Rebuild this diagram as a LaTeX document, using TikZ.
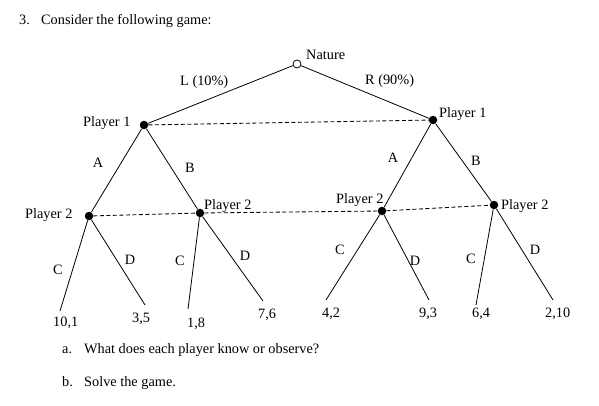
\documentclass[tikz,border=0pt]{standalone}
\usepackage{fontspec}
\setmainfont{Liberation Serif}
\usepackage{tikz}

\tikzset{
	decision/.style={circle,fill=black,inner sep=0pt,minimum size=8.5pt},
	chance/.style={circle,draw=black,fill=white,inner sep=0pt,minimum size=8pt,line width=0.8pt},
	txt/.style={inner sep=0pt,anchor=base west},
	move/.style={inner sep=0pt},
	infoset/.style={dashed,dash pattern=on 4pt off 2.5pt,line width=0.85pt},
	branch/.style={line width=0.8pt}
}

\begin{document}
\fontsize{14.3pt}{17pt}\selectfont
\begin{tikzpicture}[x=1pt,y=-1pt]
		\useasboundingbox[fill=white] (0,0) rectangle (599,406);

		% >>> question text
		\node[txt] (num) at (19,25) {3.};
		\node[txt] (title) at (41,25) {Consider the following game:};
		\node[txt] (qa) at (62,353) {a.};
		\node[txt] (qatext) at (84,353) {What does each player know or observe?};
		\node[txt] (qb) at (62,386) {b.};
		\node[txt] (qbtext) at (84,386) {Solve the game.};
		% <<< question text

		% >>> decision nodes
		\node[chance] (nat) at (297,64) {};
		\node[decision] (p1l) at (144,125) {};
		\node[decision] (p1r) at (433,120) {};
		\node[decision] (p2a) at (89,216) {};
		\node[decision] (p2b) at (200,213) {};
		\node[decision] (p2c) at (382,211) {};
		\node[decision] (p2d) at (494,205) {};
		% <<< decision nodes

		% >>> player labels
		\node[txt] (natlab) at (306,60) {Nature};
		\node[txt] (p1llab) at (83,126.5) {Player 1};
		\node[txt] (p1rlab) at (439,118) {Player 1};
		\node[txt] (p2alab) at (25,218) {Player 2};
		\node[txt] (p2blab) at (204,209) {Player 2};
		\node[txt] (p2clab) at (336,203) {Player 2};
		\node[txt] (p2dlab) at (501,209) {Player 2};
		% <<< player labels

		% >>> terminal points
		\coordinate (t1) at (60,311);
		\coordinate (t2) at (145,305);
		\coordinate (t3) at (188,309);
		\coordinate (t4) at (263,301);
		\coordinate (t5) at (326,300);
		\coordinate (t6) at (429,300);
		\coordinate (t7) at (476,305);
		\coordinate (t8) at (553,300);
		% <<< terminal points

		% >>> branches
		\draw[branch] (nat) -- (p1l);
		\draw[branch] (nat) -- (p1r);
		\draw[branch] (p1l) -- (p2a);
		\draw[branch] (p1l) -- (p2b);
		\draw[branch] (p1r) -- (p2c);
		\draw[branch] (p1r) -- (p2d);
		\draw[branch] (p2a) -- (t1);
		\draw[branch] (p2a) -- (t2);
		\draw[branch] (p2b) -- (t3);
		\draw[branch] (p2b) -- (t4);
		\draw[branch] (p2c) -- (t5);
		\draw[branch] (p2c) -- (t6);
		\draw[branch] (p2d) -- (t7);
		\draw[branch] (p2d) -- (t8);
		% <<< branches

		% >>> information sets
		\draw[infoset] (p1l) -- (p1r);
		\draw[infoset] (p2a) -- (p2b) -- (p2c) -- (p2d);
		% <<< information sets

		% >>> move labels
		\node[txt] (ml) at (180,86) {L (10\%)};
		\node[txt] (mr) at (365,85) {R (90\%)};
		\node[move] (ma1) at (98,163) {A};
		\node[move] (mb1) at (190,168) {B};
		\node[move] (ma2) at (393,158) {A};
		\node[move] (mb2) at (476,161) {B};
		\node[move] (mc1) at (58,270) {C};
		\node[move] (md1) at (130,260) {D};
		\node[move] (mc2) at (180,261) {C};
		\node[move] (md2) at (245,256) {D};
		\node[move] (mc3) at (340,250) {C};
		\node[move] (md3) at (415,261) {D};
		\node[move] (mc4) at (471,259) {C};
		\node[move] (md4) at (535,250) {D};
		% <<< move labels

		% >>> payoffs
		\node[txt] (pay1) at (53,326) {10,1};
		\node[txt] (pay2) at (132,322) {3,5};
		\node[txt] (pay3) at (187,327) {1,8};
		\node[txt] (pay4) at (258,318) {7,6};
		\node[txt] (pay5) at (322,317) {4,2};
		\node[txt] (pay6) at (419,317) {9,3};
		\node[txt] (pay7) at (472,317) {6,4};
		\node[txt] (pay8) at (545,317) {2,10};
		% <<< payoffs
	\end{tikzpicture}
\end{document}
